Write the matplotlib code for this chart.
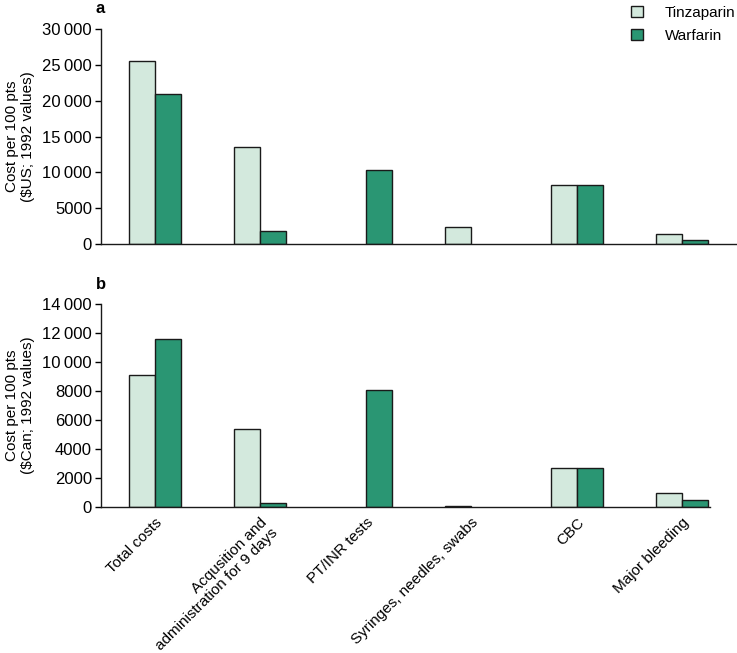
import numpy as np
import matplotlib.pyplot as plt
from matplotlib.patches import Patch
from matplotlib.ticker import FuncFormatter

plt.rcParams['font.family'] = ['Liberation Sans', 'DejaVu Sans']

categories = ["Total costs", "Acqusition and\nadministration for 9 days", "PT/INR tests",
              "Syringes, needles, swabs", "CBC", "Major bleeding"]
series_names = ["Tinzaparin", "Warfarin"]

# panel a: $US, 1992 values (0 = no bar)
tinz_us = [25600, 13500, 0, 2400, 8200, 1400]
warf_us = [20900, 1800, 10300, 0, 8200, 550]

# panel b: $Can, 1992 values
tinz_can = [9150, 5400, 0, 100, 2700, 1000]
warf_can = [11600, 300, 8100, 0, 2700, 500]

light = "#d3e9dd"
dark = "#2a9673"
edge = "#1a1a1a"
w = 0.246


def thin_fmt(v, pos):
    v = int(round(v))
    if v >= 10000:
        return f"{v:,}".replace(",", "\u2009")
    return str(v)


def bar_panel(ax, tinz, warf, ymax, step, ylabel, tag, xright):
    x = np.arange(len(categories))
    for vals, off, col in [(tinz, -w / 2, light), (warf, w / 2, dark)]:
        vals = np.asarray(vals, dtype=float)
        keep = vals > 0
        ax.bar(x[keep] + off, vals[keep], w, color=col, edgecolor=edge, linewidth=1.0)
    ax.set_xlim(-0.51, xright)
    ax.set_ylim(0, ymax)
    ax.set_yticks(np.arange(0, ymax + 1, step))
    ax.yaxis.set_major_formatter(FuncFormatter(thin_fmt))
    ax.spines['top'].set_visible(False)
    ax.spines['right'].set_visible(False)
    for s in ['left', 'bottom']:
        ax.spines[s].set_linewidth(1.0)
        ax.spines[s].set_color(edge)
    ax.tick_params(axis='y', direction='out', length=4, width=1.0, labelsize=12, pad=2.5)
    ax.tick_params(axis='x', length=0)
    ax.set_ylabel(ylabel, fontsize=11, linespacing=1.2)
    width_px = ax.get_position().width * 737
    ax.yaxis.set_label_coords(-66 / width_px, 0.5)
    ax.text(-0.008, 1.06, tag, transform=ax.transAxes, fontsize=12, fontweight='bold',
            ha='left', va='bottom')
    return x


fig = plt.figure(figsize=(7.37, 6.53), dpi=100)
ax1 = fig.add_axes([0.137, 0.626, 1 - 0.137, 0.3296])
ax2 = fig.add_axes([0.137, 0.2236, 0.963 - 0.137, 0.3104])

x = bar_panel(ax1, tinz_us, warf_us, 30000, 5000, "Cost per 100 pts\n($US; 1992 values)", "a", 5.52)
ax1.set_xticks(x)
ax1.set_xticklabels([])

x = bar_panel(ax2, tinz_can, warf_can, 14000, 2000, "Cost per 100 pts\n($Can; 1992 values)", "b", 5.26)
ax2.set_xticks(x)
ax2.set_xticklabels(categories, rotation=45, ha='right', rotation_mode='anchor',
                    fontsize=11, linespacing=1.1)
ax2.tick_params(axis='x', pad=6)

handles = [Patch(facecolor=light, edgecolor=edge, linewidth=1.0),
           Patch(facecolor=dark, edgecolor=edge, linewidth=1.0)]
fig.legend(handles, series_names, loc='upper left', bbox_to_anchor=(0.838, 1.012),
           frameon=False, fontsize=11, handlelength=0.75, handleheight=0.75,
           handletextpad=1.45, labelspacing=0.6)

fig.savefig("out.png", dpi=100)
